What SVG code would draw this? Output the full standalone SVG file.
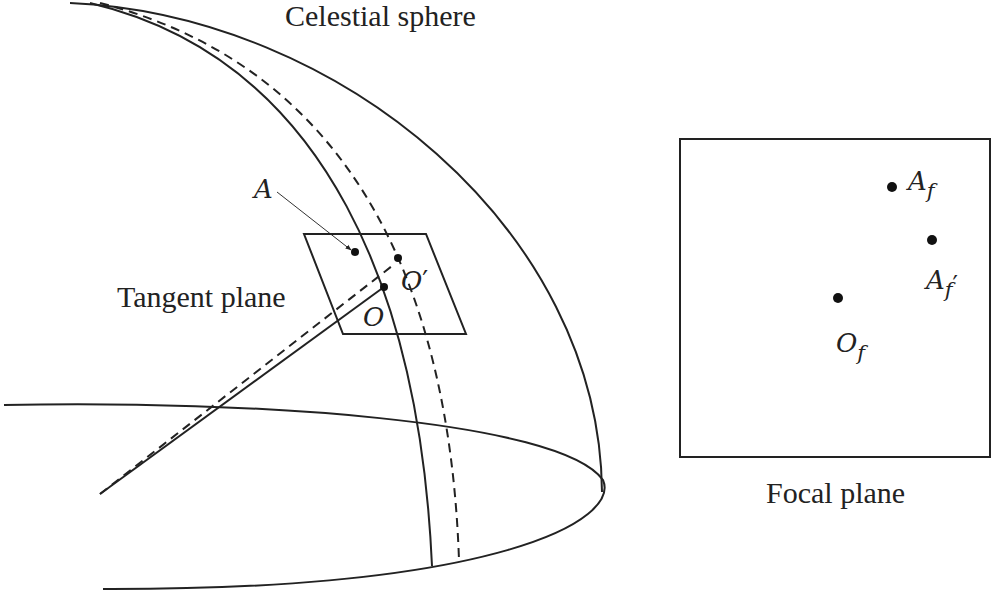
<svg xmlns="http://www.w3.org/2000/svg" width="1000" height="594" viewBox="0 0 1000 594">
<style>
.l{fill:none;stroke:#222;stroke-width:2}
.d{fill:none;stroke:#222;stroke-width:2;stroke-dasharray:9 6}
.t{font-family:"Liberation Serif",serif;font-size:30px;fill:#222}
.m{font-family:"DejaVu Serif",serif;font-style:italic;font-size:26px;fill:#222}
</style>
<defs><marker id="ar" viewBox="0 0 10 10" refX="9" refY="5" markerWidth="6" markerHeight="6" orient="auto"><path d="M0,1 L10,5 L0,9 z" fill="#222"/></marker></defs>
<g id="connectors">
<path class="l" d="M70,3 C340,15 600,230 602,492"/>
<path class="l" d="M90,3 C330,60 420,300 432,566"/>
<path class="d" d="M100,3 C360,70 450,300 459,560"/>
<path class="l" d="M4,405 C250,400 560,420 603,480 C620,520 500,590 103,589"/>
<path class="l" d="M100,494 L384,287"/>
<path class="d" d="M100,494 L392,266"/>
<path d="M277,192 L351,250" fill="none" stroke="#333" stroke-width="1" marker-end="url(#ar)"/>
</g>
<g id="tangent-plane"><polygon class="l" points="304,234 426,234 466,334 343,334"/>
<circle cx="355" cy="252" r="4" fill="#111"/><circle cx="398" cy="258" r="4" fill="#111"/><circle cx="384" cy="287" r="4" fill="#111"/>
<text class="t" x="117" y="307" font-size="36">Tangent plane</text>
<text class="m" x="254" y="198" font-size="20">A</text>
<text class="m" x="401" y="290">O<tspan font-style="normal" font-family="DejaVu Sans">′</tspan></text>
<text class="m" x="363" y="326">O</text>
</g>
<text class="t" x="285" y="26">Celestial sphere</text>
<g id="focal-plane"><rect class="l" x="680" y="139" width="310" height="318" stroke-width="2.5"/>
<circle cx="892" cy="187" r="5" fill="#111"/><circle cx="932" cy="240" r="5" fill="#111"/><circle cx="838" cy="298" r="5" fill="#111"/>
<text class="m" x="908" y="190" font-size="31">A<tspan font-size="21" dy="8">f</tspan></text>
<text class="m" x="926" y="289" font-size="31">A<tspan font-size="21" dy="8">f</tspan><tspan font-size="24" dy="-4" font-style="normal" font-family="DejaVu Sans">′</tspan></text>
<text class="m" x="836" y="352" font-size="31">O<tspan font-size="21" dy="8">f</tspan></text>
<text class="t" x="766" y="503" font-size="32">Focal plane</text>
</g>
</svg>
